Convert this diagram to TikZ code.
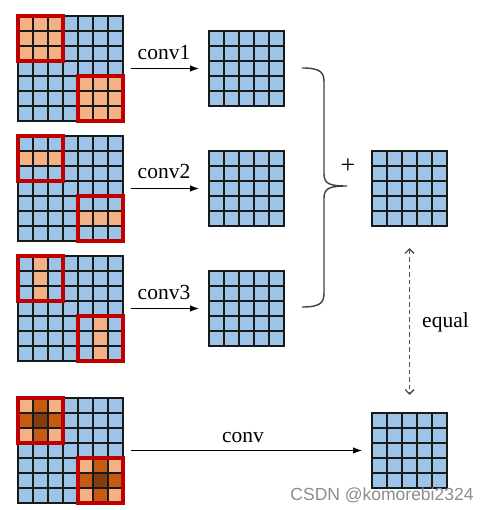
\documentclass[tikz,border=0pt]{standalone}
\usepackage{fontspec}
\setmainfont{Liberation Serif}
\newfontfamily\wmfont{Liberation Sans}
\usetikzlibrary{arrows.meta}
\definecolor{cellblue}{HTML}{9DC3E6}
\definecolor{celllight}{HTML}{F4B183}
\definecolor{cellmid}{HTML}{C55A11}
\definecolor{celldark}{HTML}{843C0C}
\definecolor{redbox}{HTML}{C00000}
\definecolor{bracegray}{HTML}{404040}
\definecolor{dashgray}{HTML}{505050}
\definecolor{wmgray}{HTML}{8C8C8C}
\newcommand\mkgrid[3]{% x0 y0 n
  \fill[cellblue] (#1,#2) rectangle ({#1+15*(#3)},{#2+15*(#3)});}
\newcommand\mklines[3]{%
  \foreach \k in {0,...,#3}{
    \draw[gridline] ({#1+15*\k},#2) -- ({#1+15*\k},{#2+15*(#3)});
    \draw[gridline] (#1,{#2+15*\k}) -- ({#1+15*(#3)},{#2+15*\k});
  }}
\newcommand\mkcell[5]{% x0 y0 col row color
  \fill[#5] ({#1+15*(#3)},{#2+15*(#4)}) rectangle ++(15,15);}
\newcommand\mkred[4]{% x0 y0 col row (top-left of 3x3)
  \draw[redframe] ({#1+15*(#3)},{#2+15*(#4)}) rectangle ++(45,45);}
\begin{document}
\begin{tikzpicture}[x=1pt,y=-1pt,
  gridline/.style={line width=1.5pt,black!90,line cap=rect},
  redframe/.style={line width=3.4pt,redbox},
  gridbox/.style={rectangle,inner sep=0pt,outer sep=0pt},
  conn/.style={line width=1pt,-{Latex[length=9pt,width=6.5pt]},shorten <=8pt,shorten >=10pt},
  lbl/.style={font=\fontsize{21.5}{24}\selectfont,anchor=base,inner sep=0pt},
  eqarrow/.style={line width=1.7pt,dashgray,dash pattern=on 4.5pt off 3pt,{Straight Barb[length=4.5pt,width=9pt,line width=1.4pt]}-{Straight Barb[length=4.5pt,width=9pt,line width=1.4pt]},shorten <=22pt,shorten >=18pt}]
\useasboundingbox (0,0) rectangle (488,510);

% ---- input grids ----
% grid 1 (3x3 square)
\mkgrid{18}{16}{7}
\foreach \c in {0,1,2}{\foreach \r in {0,1,2}{\mkcell{18}{16}{\c}{\r}{celllight}\mkcell{18}{16}{\c+4}{\r+4}{celllight}}}
\mklines{18}{16}{7}
\mkred{18}{16}{0}{0}\mkred{18}{16}{4}{4}
\node[gridbox,minimum size=105pt] (in1) at (70.5,68.5) {};

% grid 2 (1x3 horizontal)
\mkgrid{18}{136}{7}
\foreach \c in {0,1,2}{\mkcell{18}{136}{\c}{1}{celllight}\mkcell{18}{136}{\c+4}{5}{celllight}}
\mklines{18}{136}{7}
\mkred{18}{136}{0}{0}\mkred{18}{136}{4}{4}
\node[gridbox,minimum size=105pt] (in2) at (70.5,188.5) {};

% grid 3 (3x1 vertical)
\mkgrid{18}{256}{7}
\foreach \r in {0,1,2}{\mkcell{18}{256}{1}{\r}{celllight}\mkcell{18}{256}{5}{\r+4}{celllight}}
\mklines{18}{256}{7}
\mkred{18}{256}{0}{0}\mkred{18}{256}{4}{4}
\node[gridbox,minimum size=105pt] (in3) at (70.5,308.5) {};

% grid 4 (merged kernel)
\mkgrid{18}{398}{7}
\foreach \ox/\oy in {0/0,4/4}{
  \foreach \c/\r in {0/0,2/0,0/2,2/2}{\mkcell{18}{398}{\c+\ox}{\r+\oy}{celllight}}
  \foreach \c/\r in {1/0,0/1,2/1,1/2}{\mkcell{18}{398}{\c+\ox}{\r+\oy}{cellmid}}
  \mkcell{18}{398}{1+\ox}{1+\oy}{celldark}
}
\mklines{18}{398}{7}
\mkred{18}{398}{0}{0}\mkred{18}{398}{4}{4}
\node[gridbox,minimum size=105pt] (in4) at (70.5,450.5) {};

% ---- output grids ----
\mkgrid{209}{31}{5}\mklines{209}{31}{5}
\node[gridbox,minimum size=75pt] (out1) at (246.5,68.5) {};
\mkgrid{209}{151}{5}\mklines{209}{151}{5}
\node[gridbox,minimum size=75pt] (out2) at (246.5,188.5) {};
\mkgrid{209}{271}{5}\mklines{209}{271}{5}
\node[gridbox,minimum size=75pt] (out3) at (246.5,308.5) {};
\mkgrid{372}{151}{5}\mklines{372}{151}{5}
\node[gridbox,minimum size=75pt] (sum) at (409.5,188.5) {};
\mkgrid{372}{413}{5}\mklines{372}{413}{5}
\node[gridbox,minimum size=75pt] (res) at (409.5,450.5) {};

% ---- connectors ----
\draw[conn] (in1) -- (out1);
\draw[conn] (in2) -- (out2);
\draw[conn] (in3) -- (out3);
\draw[conn] (in4) -- (res);
\draw[eqarrow] (sum) -- (res);

% ---- labels ----
\node[lbl] (l1) at (164,60) {conv1};
\node[lbl] (l2) at (164,179) {conv2};
\node[lbl] (l3) at (164,299) {conv3};
\node[lbl] (l4) at (243,442) {conv};
\node[lbl] (leq) at (445.5,327) {equal};
\node[font=\fontsize{26}{28}\selectfont,inner sep=0pt] (plus) at (348,166) {+};

% ---- brace ----
\draw[bracegray,line width=1.4pt]
  (302,68) .. controls (320,68) and (324,72) .. (324,82)
  -- (324,174) .. controls (324,184) and (330,186) .. (347,186)
  .. controls (330,186) and (324,188) .. (324,198)
  -- (324,293) .. controls (324,303) and (320,307) .. (302,307);

% ---- watermark ----
\node[font=\wmfont\fontsize{17.5}{20}\selectfont,text=wmgray,anchor=base,inner sep=0pt] (wm) at (382,500) {CSDN @komorebi2324};
\end{tikzpicture}
\end{document}
